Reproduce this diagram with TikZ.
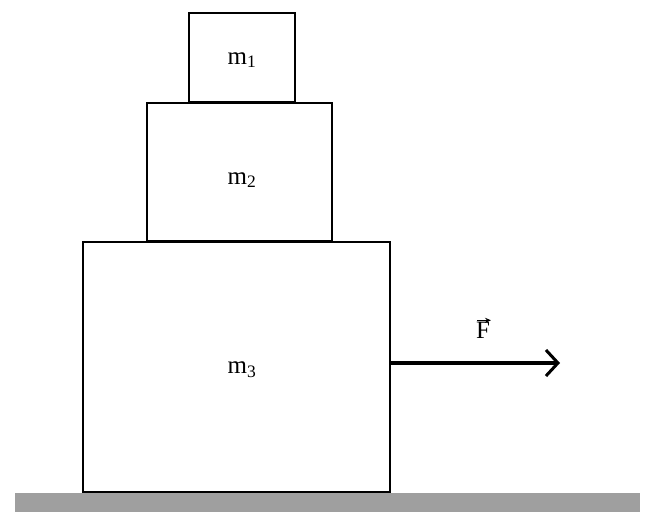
\documentclass[tikz,border=0pt]{standalone}
\usepackage{fontspec}
\setmainfont{Liberation Serif}
\usetikzlibrary{arrows.meta}
\begin{document}
\begin{tikzpicture}[x=1pt,y=-1pt,
  block/.style={draw,line width=1.3pt,fill=white},
  lbl/.style={font=\fontsize{25}{28}\selectfont}]
\useasboundingbox (0,0) rectangle (668,530);
\fill[gray!75] (15,493) rectangle (640,512);
\draw[block] (83,242) rectangle (390,492);
\draw[block] (147,103) rectangle (332,241);
\draw[block] (189,13) rectangle (295,102);
\node[lbl] (m1) at (242,60) {m\textsubscript{1}};
\node[lbl] (m2) at (242,180) {m\textsubscript{2}};
\node[lbl] (m3) at (242,370) {m\textsubscript{3}};
\coordinate (s) at (390,363);
\coordinate (e) at (560,363);
\draw[line width=4pt,-{Straight Barb[length=12pt,width=26pt,line width=3pt]}] (s) -- (e);
\node[lbl] (F) at (483,330) {F};
\draw[line width=1.2pt,-{Stealth[length=6pt,width=5pt]}] ([xshift=-6pt,yshift=-2pt]F.north) -- ([xshift=8pt,yshift=-2pt]F.north);
\end{tikzpicture}
\end{document}
